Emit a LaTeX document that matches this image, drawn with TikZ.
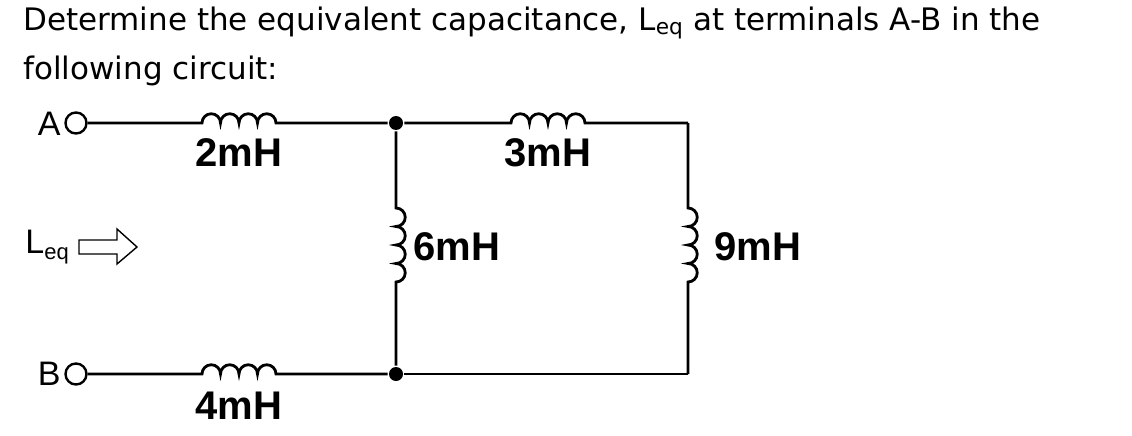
\documentclass[tikz,border=0pt]{standalone}
\usepackage{fontspec}
\setmainfont{DejaVu Sans}
\newfontfamily\arial{Liberation Sans}
\begin{document}
\begin{tikzpicture}[x=1pt,y=-1pt,line width=2.8pt,
  val/.style={font=\arial\bfseries\fontsize{40}{40}\selectfont,inner sep=0pt},
  term/.style={font=\arial\fontsize{34}{34}\selectfont,inner sep=0pt},
  dot/.style={circle,fill,inner sep=0pt,minimum size=14pt},
  open/.style={circle,draw,line width=2.4pt,fill=white,inner sep=0pt,minimum size=21pt}]
\useasboundingbox (0,0) rectangle (1132,436);
\fill[white] (0,0) rectangle (1132,436);
\node[anchor=base west,inner sep=0pt,font=\fontsize{31}{31}\selectfont] (t1) at (22,31) {Determine the equivalent capacitance, L\textsubscript{eq} at terminals A-B in the};
\node[anchor=base west,inner sep=0pt,font=\fontsize{31}{31}\selectfont] (t2) at (22,80) {following circuit:};
\node[open] (A) at (76,123) {};
\node[open] (B) at (76,374) {};
\node[term,anchor=east] at (62,124) {A};
\node[term,anchor=east] at (62,374) {B};
\node[dot] (J1) at (396,123) {};
\node[dot] (J2) at (396,374) {};
\coordinate (TR) at (688,123);
\coordinate (BR) at (688,374);
\draw (A) -- (202,123) arc[start angle=180,end angle=360,radius=9.25] arc[start angle=180,end angle=360,radius=9.25] arc[start angle=180,end angle=360,radius=9.25] arc[start angle=180,end angle=360,radius=9.25] -- (J1);
\draw (J1) -- (511,123) arc[start angle=180,end angle=360,radius=9.25] arc[start angle=180,end angle=360,radius=9.25] arc[start angle=180,end angle=360,radius=9.25] arc[start angle=180,end angle=360,radius=9.25] -- (TR);
\draw (B) -- (202,374) arc[start angle=180,end angle=360,radius=9.25] arc[start angle=180,end angle=360,radius=9.25] arc[start angle=180,end angle=360,radius=9.25] arc[start angle=180,end angle=360,radius=9.25] -- (J2);
\draw (J2) -- (BR);
\draw (J1) -- (396,208) arc[start angle=-90,end angle=90,radius=9.25] arc[start angle=-90,end angle=90,radius=9.25] arc[start angle=-90,end angle=90,radius=9.25] arc[start angle=-90,end angle=90,radius=9.25] -- (J2);
\draw (TR) -- (688,208) arc[start angle=-90,end angle=90,radius=9.25] arc[start angle=-90,end angle=90,radius=9.25] arc[start angle=-90,end angle=90,radius=9.25] arc[start angle=-90,end angle=90,radius=9.25] -- (BR);
\node[val] (l2) at (239,153) {2mH};
\node[val] (l3) at (548,153) {3mH};
\node[val] (l4) at (239,406) {4mH};
\node[val,anchor=west] (l6) at (412,247) {6mH};
\node[val,anchor=west] (l9) at (713,247) {9mH};
\node[term,anchor=west] (leq) at (24,247) {L\raisebox{-0.3ex}{\fontsize{22}{22}\selectfont eq}};
\draw[line width=1.4pt] (79,240) -- (117,240) -- (117,229) -- (137,247) -- (117,264) -- (117,254) -- (79,254) -- cycle;
\end{tikzpicture}
\end{document}
